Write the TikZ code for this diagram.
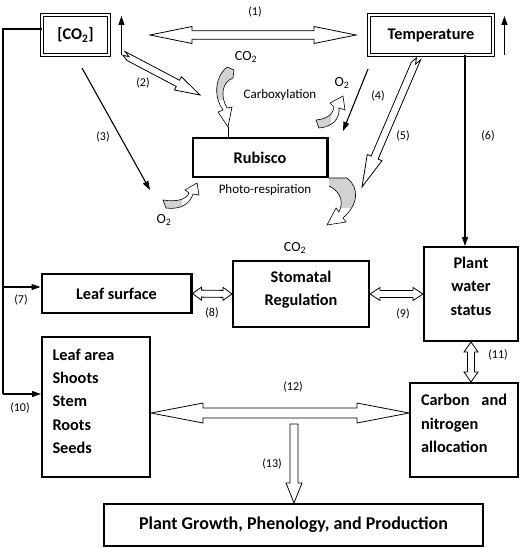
\documentclass[tikz,border=0pt]{standalone}
\usepackage{fontspec}
\setmainfont{Carlito}
\usetikzlibrary{calc,arrows.meta}
\newcommand{\boxfont}{\fontsize{16.3}{23.3}\selectfont\bfseries}
\newcommand{\bigboxfont}{\fontsize{18}{22}\selectfont\bfseries}
\newcommand{\lblfont}{\fontsize{12}{14}\selectfont}
\newcommand{\txtfont}{\fontsize{13}{15}\selectfont}
\newcommand{\gasfont}{\fontsize{14}{16}\selectfont}
% hollow block arrows: start, end, shaft half width, head half width, head length
\newcommand{\blockarrow}[5]{%
  \path ($(#2)!#5!(#1)$) coordinate (hb);
  \draw[hollow] ($(#1)!#3!90:(#2)$) -- ($(hb)!#3!90:(#2)$) -- ($(hb)!#4!90:(#2)$) -- (#2)
    -- ($(hb)!#4!-90:(#2)$) -- ($(hb)!#3!-90:(#2)$) -- ($(#1)!#3!-90:(#2)$) -- cycle;}
\newcommand{\blockarrowzig}[5]{%
  \path ($(#2)!#5!(#1)$) coordinate (hb) ($(#1)!3pt!(#2)$) coordinate (tz) ($(#1)!-3pt!(#2)$) coordinate (tb);
  \draw[hollow] ($(tb)!#3!90:(#2)$) -- ($(hb)!#3!90:(#2)$) -- ($(hb)!#4!90:(#2)$) -- (#2)
    -- ($(hb)!#4!-90:(#2)$) -- ($(hb)!#3!-90:(#2)$) -- ($(tz)!#3!-90:(#2)$)
    -- ($(tb)!0.8pt!-90:(#2)$) -- ($(tz)!0.8pt!90:(#2)$) -- cycle;}
\newcommand{\blockarrowboth}[5]{%
  \path ($(#1)!#5!(#2)$) coordinate (ha) ($(#2)!#5!(#1)$) coordinate (hb);
  \draw[hollow] (#1) -- ($(ha)!#4!90:(#2)$) -- ($(ha)!#3!90:(#2)$) -- ($(hb)!#3!90:(#2)$)
    -- ($(hb)!#4!90:(#2)$) -- (#2) -- ($(hb)!#4!-90:(#2)$) -- ($(hb)!#3!-90:(#2)$)
    -- ($(ha)!#3!-90:(#2)$) -- ($(ha)!#4!-90:(#2)$) -- cycle;}
\tikzset{
  box/.style={draw, line width=2.4pt, inner sep=0pt, font=\boxfont},
  dbox/.style={draw, double, double distance=2pt, line width=0.9pt, inner sep=0pt, font=\boxfont},
  lbl/.style={font=\lblfont, inner sep=0pt},
  txt/.style={font=\txtfont, inner sep=0pt},
  gas/.style={font=\gasfont, inner sep=0pt},
  line/.style={line width=1.1pt},
  arr/.style={line width=1.1pt, -{Triangle[length=9pt,width=6pt]}},
  hollow/.style={draw, fill=white, line width=0.8pt, line join=miter},
  curl/.style={line width=0.6pt},
}
\begin{document}
\begin{tikzpicture}[x=1pt,y=-1pt]
  \useasboundingbox (0,0) rectangle (520,548);
  % boxes
  \node[dbox, minimum width=67pt, minimum height=40pt] (co2) at (75.5,35) {[CO\textsubscript{2}]};
  \node[dbox, minimum width=124pt, minimum height=40pt] (temp) at (431,35) {Temperature};
  \node[box, minimum width=134.6pt, minimum height=38.6pt] (rubisco) at (260,157.5) {Rubisco};
  \node[box, minimum width=149.6pt, minimum height=38.6pt] (leaf) at (116.5,293.5) {Leaf surface};
  \node[box, minimum width=135.6pt, minimum height=65.6pt, align=center, text depth=12pt]
    (stom) at (301,294) {Stomatal\\Regulation};
  \node[box, minimum width=93.6pt, minimum height=93.6pt, align=center, text depth=16pt]
    (water) at (471,294) {Plant\\water\\status};
  \node[box, minimum width=107.6pt, minimum height=139.6pt, text width=87pt, align=flush left, text depth=105pt]
    (organs) at (96,407) {Leaf area\\Shoots\\Stem\\Roots\\Seeds};
  \node[box, minimum width=107.6pt, minimum height=93.6pt, text width=86pt, align=flush left, text depth=59.5pt]
    (alloc) at (464,430) {Carbon\hfill and\\nitrogen\\allocation};
  \node[box, font=\bigboxfont, minimum width=378.6pt, minimum height=41.6pt] (growth) at (293.5,525)
    {Plant Growth, Phenology, and Production};
  % small texts
  \node[gas] (gco2a) at (246,57) {CO\textsubscript{2}};
  \node[txt] (carbox) at (280,95) {Carboxylation};
  \node[gas] (go2a) at (342,83) {O\textsubscript{2}};
  \node[txt] (photo) at (265,190) {Photo-respiration};
  \node[gas] (go2b) at (164,220) {O\textsubscript{2}};
  \node[gas] (gco2b) at (295,248) {CO\textsubscript{2}};
  % numbers
  \node[lbl] (l1) at (255,12) {(1)};
  \node[lbl] (l2) at (143,83) {(2)};
  \node[lbl] (l3) at (103,137) {(3)};
  \node[lbl] (l4) at (378,96) {(4)};
  \node[lbl] (l5) at (403,136) {(5)};
  \node[lbl] (l6) at (488,136) {(6)};
  \node[lbl] (l7) at (21,300) {(7)};
  \node[lbl] (l8) at (212,313) {(8)};
  \node[lbl] (l9) at (403,314) {(9)};
  \node[lbl] (l10) at (20,408) {(10)};
  \node[lbl] (l11) at (498,355) {(11)};
  \node[lbl] (l12) at (293,387) {(12)};
  \node[lbl] (l13) at (272,464) {(13)};
  % rising arrows
  \coordinate (up1a) at ($(co2.east)+(12,20)$);
  \coordinate (up1b) at ($(co2.east)+(12,-19)$);
  \coordinate (up2a) at ($(temp.east)+(11,20)$);
  \coordinate (up2b) at ($(temp.east)+(11,-19)$);
  \draw[arr] (up1a) -- (up1b);
  \draw[arr] (up2a) -- (up2b);
  % thin arrows
  \coordinate (a3s) at (82,68);
  \coordinate (a3e) at (150,190);
  \coordinate (a4s) at (368,69);
  \coordinate (a4e) at (343,131);
  \draw[arr] (a3s) -- (a3e);
  \draw[arr] (a4s) -- (a4e);
  \draw[arr] (temp.south -| 465,0) -- (water.north -| 465,0);
  % left rail
  \coordinate (rtop) at (3,29);
  \coordinate (r7) at (3,287);
  \coordinate (r10) at (3,394);
  \draw[line] (co2.west |- rtop) -- (rtop) -- (r10);
  \draw[arr] (r7) -- (leaf.west |- r7);
  \draw[arr] (r10) -- (organs.west |- r10);
  % hollow arrows
  \coordinate (h1a) at (150,35);
  \coordinate (h1b) at (356,35);
  \blockarrowboth{h1a}{h1b}{4.2pt}{8.5pt}{42pt}
  \coordinate (h2a) at (126,56);
  \coordinate (h2b) at (200,95);
  \blockarrowzig{h2a}{h2b}{3.5pt}{7.5pt}{25pt}
  \coordinate (h5a) at (416,61);
  \coordinate (h5b) at (362,187);
  \blockarrowzig{h5a}{h5b}{3.8pt}{8pt}{32pt}
  \blockarrowboth{leaf.east}{stom.west}{3.5pt}{6.5pt}{9pt}
  \blockarrowboth{stom.east}{water.west}{3.5pt}{6.5pt}{10pt}
  \blockarrowboth{water.south}{water.south |- alloc.north}{3.5pt}{7pt}{10pt}
  \blockarrowboth{organs.east |- 0,413}{alloc.west |- 0,413}{5pt}{10pt}{52pt}
  \coordinate (h13a) at (294,424);
  \blockarrow{h13a}{h13a |- growth.north}{4pt}{8pt}{20pt}
  % curled arrows
  \begin{scope}
    \clip (200,60) rectangle (240,100);
    \fill[gray!35] (227,67) .. controls (214,78) and (214,98) .. (223,110) -- (227,108)
      .. controls (220,96) and (222,82) .. (233,78) -- (234,70) -- cycle;
  \end{scope}
  \draw[curl] (227,67) .. controls (214,78) and (214,98) .. (223,110) -- (218,112) -- (228,127)
    -- (232,107) -- (227,108) .. controls (220,96) and (222,82) .. (233,78) -- (234,70) -- cycle;
  \coordinate (ctip) at (228,127);
  \draw[curl] (ctip) -- (ctip |- rubisco.north);
  \begin{scope}
    \clip (310,95) rectangle (331,135);
    \fill[gray!35] (319,128) .. controls (333,127) and (340,118) .. (339,108) -- (334,107)
      .. controls (333,115) and (326,119) .. (316,120) -- cycle;
  \end{scope}
  \draw[curl] (319,128) .. controls (333,127) and (340,118) .. (339,108) -- (345,110) -- (343,96)
    -- (330,103) -- (334,107) .. controls (333,115) and (326,119) .. (316,120) -- cycle;
  \begin{scope}
    \clip (155,190) rectangle (182,215);
    \fill[gray!35] (166,208) .. controls (180,210) and (190,204) .. (193,194) -- (189,193)
      .. controls (186,200) and (176,202) .. (163,200) -- cycle;
  \end{scope}
  \draw[curl] (166,208) .. controls (180,210) and (190,204) .. (193,194) -- (199,195) -- (197,183)
    -- (185,190) -- (189,193) .. controls (186,200) and (176,202) .. (163,200) -- cycle;
  \begin{scope}
    \clip (325,175) rectangle (365,207);
    \fill[gray!35] (329,178) -- (347,178) .. controls (360,188) and (358,205) .. (343,218)
      -- (339,212) .. controls (345,200) and (338,190) .. (329,186) -- cycle;
  \end{scope}
  \draw[curl] (329,178) -- (347,178) .. controls (360,188) and (358,205) .. (343,218) -- (346,222)
    -- (327,225) -- (336,208) -- (339,212) .. controls (345,200) and (338,190) .. (329,186);
\end{tikzpicture}
\end{document}
